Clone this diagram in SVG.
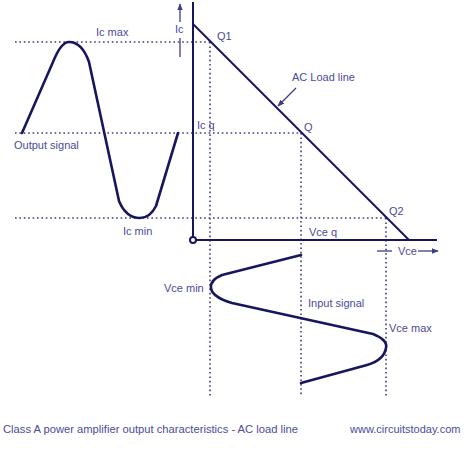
<svg xmlns="http://www.w3.org/2000/svg" width="474" height="450" viewBox="0 0 474 450">
<defs>
<style>
.t{font-family:"Liberation Sans",Arial,sans-serif;font-size:11px;fill:#4b4b9b}
.dot{stroke:#3c3c80;stroke-width:1.6;stroke-dasharray:1.6 2.8;fill:none}
.ln{stroke:#16165e;stroke-width:2;fill:none}
.sig{stroke:#16165e;stroke-width:2.6;fill:none;stroke-linejoin:round;stroke-linecap:round}
.ar{stroke:#3c3c8a;stroke-width:1.3;fill:none}
</style>
<marker id="ah" viewBox="0 0 10 10" refX="9" refY="5" markerWidth="7" markerHeight="7" orient="auto" markerUnits="userSpaceOnUse">
<path d="M0,1 L10,5 L0,9 Z" fill="#3c3c8a"/>
</marker>
</defs>
<rect width="474" height="450" fill="#ffffff"/>
<g id="gridlines">
<path class="dot" d="M15,42H210M15,133H301M15,218H386M210,42V396M301,133V396M386,218V396"/>
</g>
<g id="axes">
<path class="ln" d="M193,2V237M196,240H437"/>
<circle cx="193" cy="240" r="3" fill="#fff" stroke="#16165e" stroke-width="2"/>
</g>
<g id="loadline">
<path class="ln" d="M193,24L409,240"/>
</g>
<g id="output-signal">
<path class="sig" d="M22,133L53,62Q61,42 69,42Q82,42 89,62L119,201Q126,218 140,218Q150,218 156,206L178,133"/>
</g>
<g id="input-signal">
<path class="sig" d="M301,255L222,275Q210,280 211,288Q212,297 232,303L373,334Q388,340 386,348Q384,360 367,365L301,383"/>
</g>
<g id="connectors">
<path class="ar" d="M180,22V4" marker-end="url(#ah)"/>
<path class="ar" d="M180,38V57"/>
<path class="ar" d="M377,251H392"/>
<path class="ar" d="M418,251H438" marker-end="url(#ah)"/>
<path class="ar" d="M296,88L278,106" marker-end="url(#ah)"/>
</g>
<g id="labels">
<text class="t" x="96" y="36">Ic max</text>
<text class="t" x="175" y="33">Ic</text>
<text class="t" x="217" y="40">Q1</text>
<text class="t" x="292" y="81">AC Load line</text>
<text class="t" x="197" y="129">Ic q</text>
<text class="t" x="304" y="131">Q</text>
<text class="t" x="14" y="149">Output signal</text>
<text class="t" x="123" y="235">Ic min</text>
<text class="t" x="389" y="215">Q2</text>
<text class="t" x="309" y="236">Vce q</text>
<text class="t" x="398" y="255">Vce</text>
<text class="t" x="164" y="292">Vce min</text>
<text class="t" x="308" y="307">Input signal</text>
<text class="t" x="389" y="332">Vce max</text>
<text class="t" x="3" y="433" textLength="295" lengthAdjust="spacingAndGlyphs">Class A power amplifier output characteristics - AC load line</text>
<text class="t" x="350" y="433">www.circuitstoday.com</text>
</g>
</svg>
